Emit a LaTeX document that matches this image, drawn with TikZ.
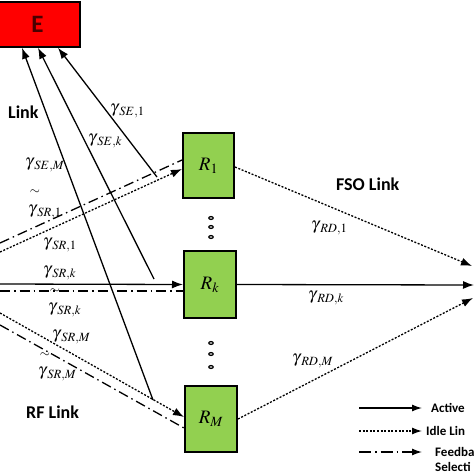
\documentclass[tikz,border=0pt]{standalone}
\usepackage{mathptmx}
\usepackage[no-math]{fontspec}
\setmainfont{Liberation Serif}
\newfontfamily\labfont{Carlito}
\usetikzlibrary{arrows.meta,calc}
\definecolor{rgreen}{HTML}{92D050}
\definecolor{ered}{HTML}{FF0000}
\definecolor{etext}{HTML}{4A0000}
\newcommand{\gsub}[1]{\gamma_{\mkern3mu #1}}
\begin{document}
\begin{tikzpicture}[x=1pt,y=-1pt,
 relay/.style={draw,line width=2pt,fill=rgreen,minimum width=51pt,minimum height=65pt,inner sep=0pt,font=\fontsize{19}{21}\selectfont},
 gl/.style={font=\fontsize{17}{19}\selectfont,inner sep=0pt,anchor=west},
 tl/.style={font=\fontsize{13}{15}\selectfont,inner sep=0pt},
 active/.style={line width=1.3pt,-{Latex[length=11pt,width=8pt]}},
 idle/.style={line width=1.3pt,dash pattern=on 2pt off 1.6pt,-{Latex[length=11pt,width=8pt]}},
 feedback/.style={line width=1.3pt,dash pattern=on 10pt off 4pt on 1.5pt off 4pt},
 biglab/.style={font=\labfont\bfseries\fontsize{18}{20}\selectfont,inner sep=0pt},
 leglab/.style={font=\labfont\bfseries\fontsize{13}{15}\selectfont,inner sep=0pt,anchor=west},
 dotmark/.style={line width=1.3pt}
]
\useasboundingbox (0,0) rectangle (474,474);
\fill[white] (0,0) rectangle (474,474);

% nodes
\node[draw,line width=1.6pt,fill=ered,minimum width=85pt,minimum height=45pt,inner sep=0pt,
      font=\labfont\bfseries\fontsize{25}{27}\selectfont,text=etext] (E) at (37.5,24.5) {E};
\node[relay] (R1) at (208.5,165.5) {$R_1$};
\node[relay,minimum width=52pt,minimum height=67pt] (Rk) at (210,284.5) {$R_k$};
\node[relay,minimum width=52pt,minimum height=66pt] (RM) at (211,419) {$R_M$};

% free ends
\coordinate (s1) at (157,177);
\coordinate (sk) at (154,279);
\coordinate (sM) at (153,400);
\coordinate (a1) at (0,252);
\coordinate (b1) at (0,243);
\coordinate (ak) at (0,284);
\coordinate (bk) at (0,291);
\coordinate (aM) at (0,313);
\coordinate (bM) at (0,325);
\coordinate (d1) at (472,266);
\coordinate (dk) at (474,285);
\coordinate (dM) at (473,298);

% relay -> E
\draw[active] (s1) -- ([xshift=20.5pt]E.south);
\draw[active] (sk) -- ([xshift=0.5pt]E.south);
\draw[active] (sM) -- ([xshift=-15.5pt]E.south);

% source -> relays
\draw[idle] (a1) -- ($(R1.west)+(0,3.5)$);
\draw[feedback] (b1) -- ($(R1.west)+(0,-5.5)$);
\draw[active] (ak) -- (Rk.west);
\draw[feedback] (bk) -- ($(Rk.west)+(0,6.5)$);
\draw[idle] (aM) -- ($(RM.west)+(0,-2)$);
\draw[feedback] (bM) -- ($(RM.west)+(0,9)$);

% relays -> D
\draw[idle] ($(R1.east)+(0,1.5)$) -- (d1);
\draw[active] (Rk.east) -- (dk);
\draw[idle] (RM.east) -- (dM);

% ellipsis marks
\foreach \yy in {218,227,237,343,354,367}
  \draw[dotmark] (211,\yy) ellipse (2.2pt and 1.4pt);

% gamma labels
\node[gl] (lse1) at (110,111) {$\gsub{SE,1}$};
\node[gl] (lsek) at (88,141) {$\gsub{SE,k}$};
\node[gl] (lsem) at (25,165) {$\gsub{SE,M}$};
\node[gl] (lsr1t) at (28,212) {$\gsub{SR,1}$};
\node[tl] (ti1) at (35,192) {$\sim$};
\node[gl] (lsr1) at (43,245) {$\gsub{SR,1}$};
\node[gl] (lsrk) at (43,273) {$\gsub{SR,k}$};
\node[gl] (lsrkt) at (48,310) {$\gsub{SR,k}$};
\node[tl] (tik) at (55,291) {$\sim$};
\node[gl] (lsrm) at (52,337) {$\gsub{SR,M}$};
\node[gl] (lsrmt) at (38,374) {$\gsub{SR,M}$};
\node[tl] (tim) at (45,355) {$\sim$};
\node[gl] (lrd1) at (311,228) {$\gsub{RD,1}$};
\node[gl] (lrdk) at (308,298) {$\gsub{RD,k}$};
\node[gl] (lrdm) at (292,361) {$\gsub{RD,M}$};

% link labels
\node[biglab,anchor=west] (tlk) at (8,112) {Link};
\node[biglab,anchor=west] (rfl) at (26,412) {RF Link};
\node[biglab,anchor=west] (fso) at (336,184) {FSO Link};

% legend
\coordinate (la0) at (359,408); \coordinate (la1) at (422,408);
\coordinate (li0) at (359,431); \coordinate (li1) at (422,431);
\coordinate (lf0) at (359,452); \coordinate (lf1) at (422,452);
\draw[line width=1.3pt,-{Latex[length=10pt,width=7pt]}] (la0) -- (la1);
\draw[line width=1.3pt,dash pattern=on 2pt off 1.6pt,-{Latex[length=10pt,width=7pt]}] (li0) -- (li1);
\draw[line width=1.3pt,dash pattern=on 12pt off 4pt on 1.5pt off 4pt,-{Latex[length=10pt,width=7pt]}] (lf0) -- (lf1);
\node[leglab] (lga) at (431,408) {Active};
\node[leglab] (lgi) at (426,431) {Idle Lin};
\node[leglab] (lgf) at (435,452) {Feedba};
\node[leglab] (lgs) at (435,467) {Selecti};
\end{tikzpicture}
\end{document}
